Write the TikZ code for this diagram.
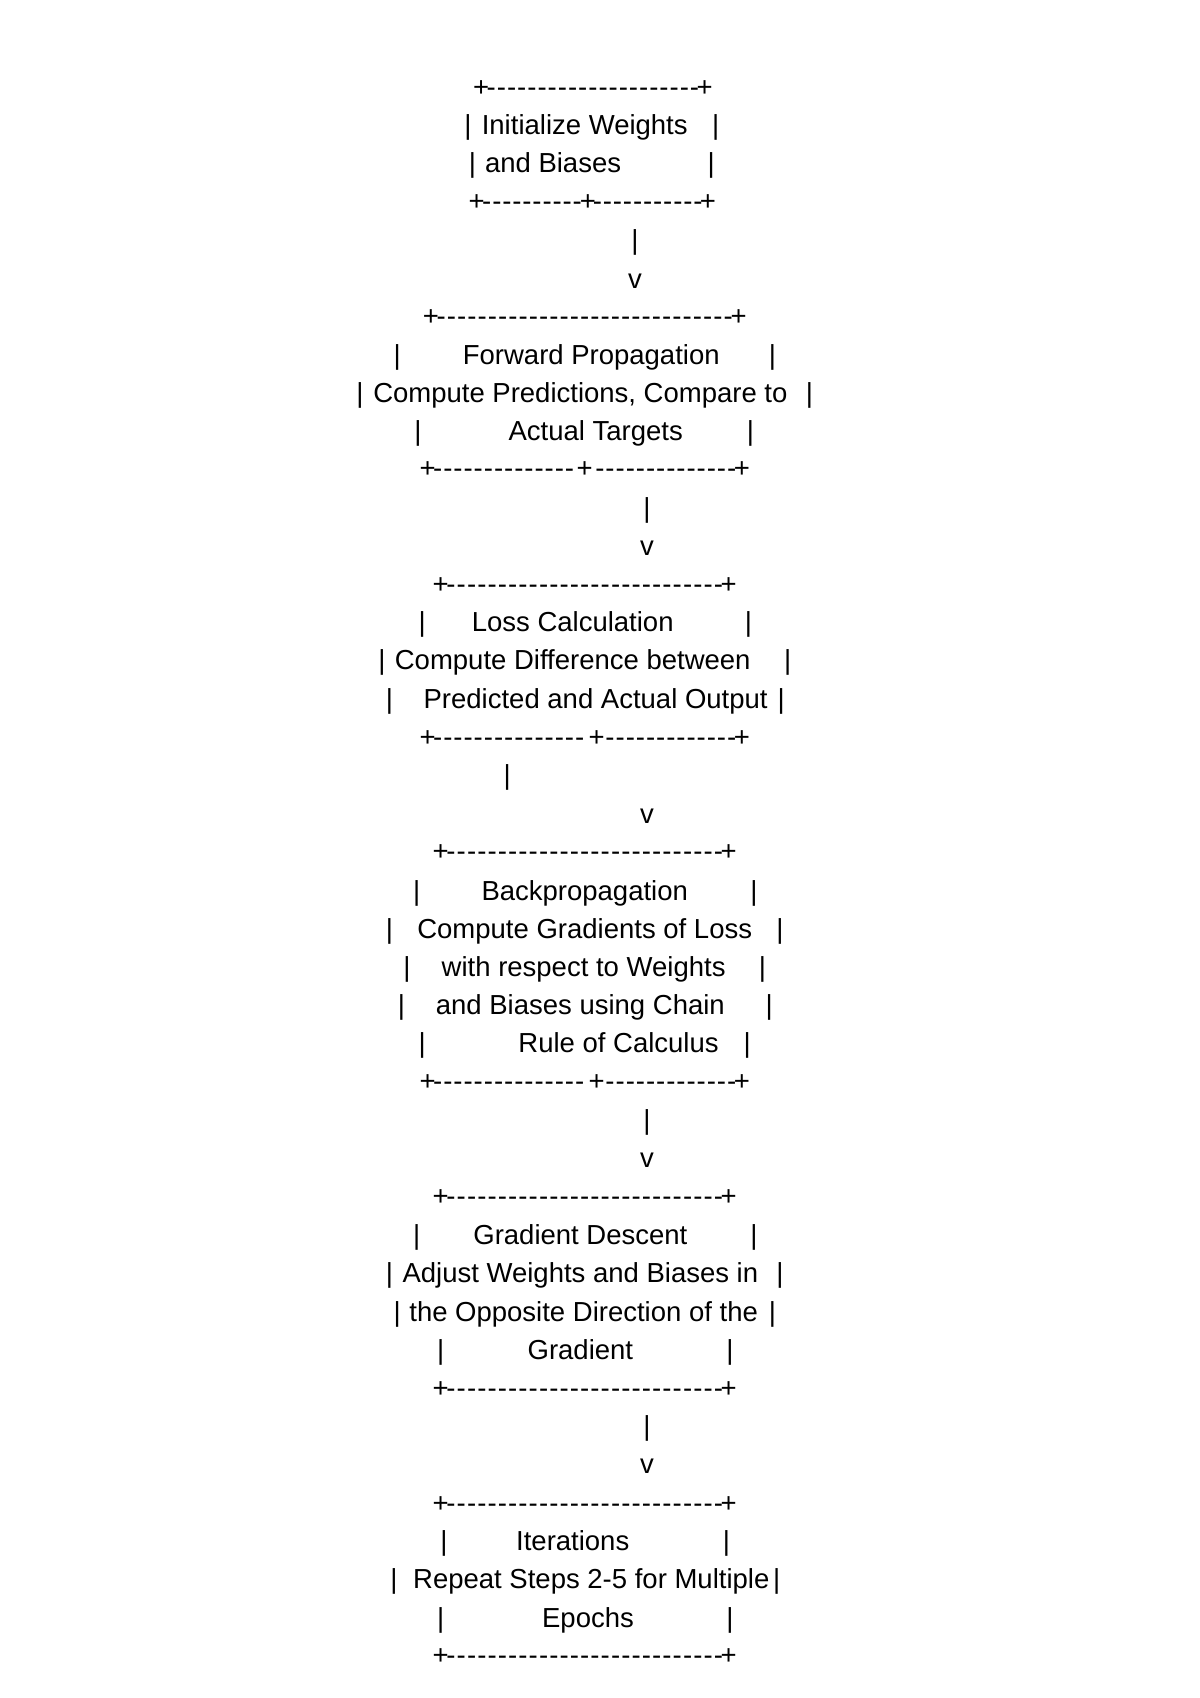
\documentclass[tikz,border=0pt]{standalone}
\usepackage{fontspec}
\setmainfont{Liberation Sans}
\tikzset{
  ascii/.style={inner sep=0pt, anchor=base, font=\fontsize{27.5}{32}\selectfont},
}
% dashed row of ascii art: y, left, right, middle plus (0 for none)
\newcommand*{\dashrow}[4]{%
  \pgfmathtruncatemacro{\nd}{round((#3-#2)/9.3)}%
  \pgfmathsetmacro{\st}{(#3-#2)/\nd}%
  \node [ascii] at (#2,#1) {+};
  \node [ascii] at (#3,#1) {+};
  \foreach \k in {1,...,\numexpr\nd-1\relax} {%
    \pgfmathsetmacro{\xx}{#2+\k*\st}%
    \pgfmathparse{abs(\xx-#4)<8 ? 1 : 0}%
    \ifnum\pgfmathresult=0 \node [ascii] at (\xx,#1) {-};\fi
  }
  \ifnum#4>0 \node [ascii] at (#4,#1) {+};\fi
}
% boxed text row: y, left pipe, right pipe, text centre, name, text
\newcommand*{\boxrow}[6]{%
  \node [ascii] at (#2,#1) {|};
  \node [ascii] at (#3,#1) {|};
  \node (#5) [ascii] at (#4,#1) {#6};
}
\begin{document}
\begin{tikzpicture}[x=1.0909pt, y=-1.0909pt]
    \useasboundingbox (0,0) rectangle (1100,1556.5);
    \def\dy{-1}

    % Initialize
    \dashrow{89+\dy}{441}{646}{0}
    \boxrow{124+\dy}{429}{656}{536}{init 1}{Initialize Weights}
    \boxrow{159+\dy}{433}{652}{507}{init 2}{and Biases}
    \dashrow{194+\dy}{437}{649}{539}
    \node (bar 1) [ascii] at (582,230+\dy) {|};
    \node (arrow 1) [ascii] at (582,265+\dy) {v};

    % Forward
    \dashrow{299+\dy}{395}{677}{0}
    \boxrow{335+\dy}{364}{708}{542}{fwd 1}{Forward Propagation}
    \boxrow{370+\dy}{330}{742}{532}{fwd 2}{Compute Predictions, Compare to}
    \boxrow{405+\dy}{383}{688}{546}{fwd 3}{Actual Targets}
    \dashrow{439+\dy}{392}{680}{536}
    \node (bar 2) [ascii] at (593,475+\dy) {|};
    \node (arrow 2) [ascii] at (593,510+\dy) {v};

    % Loss
    \dashrow{545+\dy}{404}{668}{0}
    \boxrow{580+\dy}{387}{686}{525}{loss 1}{Loss Calculation}
    \boxrow{615+\dy}{350}{722}{525}{loss 2}{Compute Difference between}
    \boxrow{650+\dy}{357}{716}{546}{loss 3}{Predicted and Actual Output}
    \dashrow{685+\dy}{392}{680}{547}
    \node (bar 3) [ascii] at (465,720+\dy) {|};
    \node (arrow 3) [ascii] at (593,756+\dy) {v};

    % Backpropagation
    \dashrow{790+\dy}{404}{668}{0}
    \boxrow{826+\dy}{382}{691}{536}{back 1}{Backpropagation}
    \boxrow{861+\dy}{357}{715}{536}{back 2}{Compute Gradients of Loss}
    \boxrow{896+\dy}{373}{699}{535}{back 3}{with respect to Weights}
    \boxrow{931+\dy}{368}{705}{532}{back 4}{and Biases using Chain}
    \boxrow{966+\dy}{387}{685}{567}{back 5}{Rule of Calculus}
    \dashrow{1001+\dy}{392}{680}{547}
    \node (bar 4) [ascii] at (593,1036+\dy) {|};
    \node (arrow 4) [ascii] at (593,1071+\dy) {v};

    % Gradient descent
    \dashrow{1106+\dy}{404}{668}{0}
    \boxrow{1142+\dy}{382}{691}{532}{grad 1}{Gradient Descent}
    \boxrow{1177+\dy}{357}{715}{532}{grad 2}{Adjust Weights and Biases in}
    \boxrow{1212+\dy}{364}{708}{535}{grad 3}{the Opposite Direction of the}
    \boxrow{1247+\dy}{404}{669}{532}{grad 4}{Gradient}
    \dashrow{1282+\dy}{404}{668}{0}
    \node (bar 5) [ascii] at (593,1317+\dy) {|};
    \node (arrow 5) [ascii] at (593,1352+\dy) {v};

    % Iterations
    \dashrow{1387+\dy}{404}{668}{0}
    \boxrow{1422+\dy}{407}{666}{525}{iter 1}{Iterations}
    \boxrow{1457+\dy}{361}{712}{542}{iter 2}{Repeat Steps 2-5 for Multiple}
    \boxrow{1493+\dy}{404}{669}{539}{iter 3}{Epochs}
    \dashrow{1527+\dy}{404}{668}{0}
\end{tikzpicture}
\end{document}
